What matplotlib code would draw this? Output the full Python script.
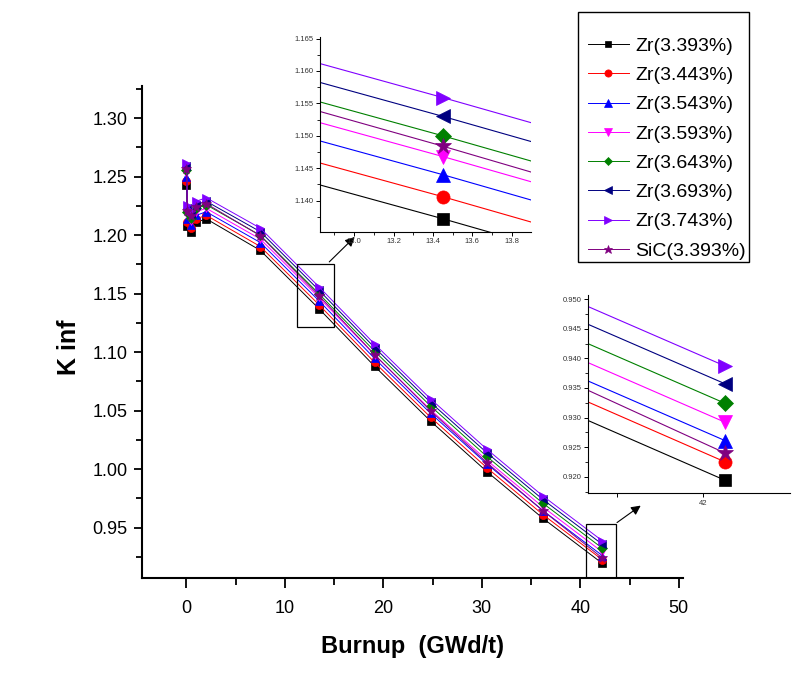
import matplotlib
matplotlib.use("Agg")
import matplotlib.pyplot as plt
from matplotlib.patches import Rectangle
from matplotlib.ticker import MultipleLocator, FormatStrFormatter

# burnup steps (GWd/t)
burnup = [0, 0.1, 0.5, 1.0, 2.0, 7.5, 13.45, 19.1, 24.8, 30.5, 36.2, 42.25]

# Kinf for each cladding / enrichment case
zr_3393 = [1.243, 1.208, 1.203, 1.211, 1.214, 1.1870, 1.1372, 1.0880, 1.0410, 0.9980, 0.9580, 0.9194]
zr_3443 = [1.246, 1.211, 1.206, 1.214, 1.217, 1.1903, 1.1406, 1.0913, 1.0443, 1.0013, 0.9612, 0.9225]
zr_3543 = [1.250, 1.214, 1.209, 1.217, 1.220, 1.1937, 1.1440, 1.0947, 1.0477, 1.0046, 0.9646, 0.9261]
zr_3593 = [1.253, 1.217, 1.212, 1.220, 1.223, 1.1967, 1.1468, 1.0977, 1.0507, 1.0077, 0.9677, 0.9292]
zr_3643 = [1.256, 1.220, 1.215, 1.223, 1.226, 1.1999, 1.1500, 1.1009, 1.0539, 1.0109, 0.9709, 0.9324]
zr_3693 = [1.259, 1.223, 1.218, 1.226, 1.229, 1.2030, 1.1530, 1.1040, 1.0570, 1.0141, 0.9741, 0.9357]
zr_3743 = [1.262, 1.226, 1.221, 1.229, 1.232, 1.2060, 1.1559, 1.1070, 1.0600, 1.0171, 0.9771, 0.9387]
sic_3393 = [1.2565, 1.221, 1.216, 1.224, 1.227, 1.1995, 1.1484, 1.0980, 1.0498, 1.0057, 0.9645, 0.9240]

names = ["Zr(3.393%)", "Zr(3.443%)", "Zr(3.543%)", "Zr(3.593%)",
         "Zr(3.643%)", "Zr(3.693%)", "Zr(3.743%)", "SiC(3.393%)"]
series = [zr_3393, zr_3443, zr_3543, zr_3593, zr_3643, zr_3693, zr_3743, sic_3393]
colors = ["black", "#ff0000", "#0000ff", "#ff00ff", "#008000", "#000080", "#8000ff", "#800080"]
markers = ["s", "o", "^", "v", "D", "<", ">", "*"]
msize = [1.0, 1.05, 1.1, 1.1, 0.85, 1.1, 1.1, 1.3]

plt.rcParams['font.family'] = ['Liberation Sans', 'DejaVu Sans']

fig = plt.figure(figsize=(7.95, 6.95), dpi=100)
W, H = 795.0, 695.0


def px_axes(l, t, r, b):
    return fig.add_axes([l / W, 1 - b / H, (r - l) / W, (b - t) / H])


def draw(ax, ms, lw):
    for y, c, m, s, n in zip(series, colors, markers, msize, names):
        ax.plot(burnup, y, color=c, lw=lw, marker=m, ms=ms * s,
                mfc=c, mec=c, mew=0.5, label=n)


def clean(ax, lw):
    ax.spines['top'].set_visible(False)
    ax.spines['right'].set_visible(False)
    ax.spines['left'].set_linewidth(lw)
    ax.spines['bottom'].set_linewidth(lw)


# main plot
ax = px_axes(141.5, 86, 682.7, 578)
draw(ax, 5.5, 0.7)
clean(ax, 1.5)
ax.set_xlim(-4.57, 50.4)
ax.set_ylim(0.907, 1.3275)
ax.xaxis.set_major_locator(MultipleLocator(10))
ax.xaxis.set_minor_locator(MultipleLocator(5))
ax.yaxis.set_major_locator(MultipleLocator(0.05))
ax.yaxis.set_minor_locator(MultipleLocator(0.025))
ax.yaxis.set_major_formatter(FormatStrFormatter('%.2f'))
ax.tick_params(axis='x', which='major', length=7.5, width=1.3, labelsize=13, pad=8)
ax.tick_params(axis='x', which='minor', length=5, width=1.3)
ax.tick_params(axis='y', which='major', length=6, width=1.3, labelsize=13, pad=4)
ax.tick_params(axis='y', which='minor', length=4, width=1.3)
ax.set_xlabel("Burnup  (GWd/t)", fontsize=17, fontweight='bold')
ax.set_ylabel("K inf", fontsize=18, fontweight='bold')
ax.xaxis.set_label_coords(0.5, -0.115)
ax.yaxis.set_label_coords(-0.112, 0.47)

# zoom boxes on the main plot
ax.add_patch(Rectangle((11.25, 1.1214), 3.76, 0.0541, fill=False, lw=0.9, ec='black', zorder=5))
ax.add_patch(Rectangle((40.54, 0.907), 3.05, 0.046, fill=False, lw=0.9, ec='black', zorder=5))

# inset around 13.45 GWd/t
in1 = px_axes(320, 37.3, 530.7, 231.7)
draw(in1, 9, 0.8)
clean(in1, 0.8)
in1.set_xlim(12.827, 13.896)
in1.set_ylim(1.1352, 1.1652)
in1.xaxis.set_major_locator(MultipleLocator(0.2))
in1.xaxis.set_minor_locator(MultipleLocator(0.1))
in1.yaxis.set_major_locator(MultipleLocator(0.005))
in1.yaxis.set_minor_locator(MultipleLocator(0.0025))
in1.xaxis.set_major_formatter(FormatStrFormatter('%.1f'))
in1.yaxis.set_major_formatter(FormatStrFormatter('%.3f'))

# inset around 42 GWd/t
in2 = px_axes(588.3, 295, 790, 493.3)
draw(in2, 9, 0.8)
clean(in2, 0.8)
in2.set_xlim(40.67, 43.0)
in2.set_ylim(0.9172, 0.9507)
in2.set_xticks([41, 42])
in2.set_xticklabels(['', '42'])
in2.yaxis.set_major_locator(MultipleLocator(0.005))
in2.yaxis.set_minor_locator(MultipleLocator(0.0025))
in2.yaxis.set_major_formatter(FormatStrFormatter('%.3f'))

for a in (in1, in2):
    a.tick_params(which='major', length=3, width=0.7, labelsize=5.5, pad=1.5, labelcolor='#333333')
    a.tick_params(which='minor', length=2, width=0.6)

# arrows from the boxes to the insets
ax.annotate("", xy=(0.174, -0.017), xycoords=in1.transAxes,
            xytext=(14.3, 1.1755), textcoords='data',
            arrowprops=dict(arrowstyle='-|>', color='black', lw=0.8, mutation_scale=14))
ax.annotate("", xy=(0.271, -0.054), xycoords=in2.transAxes,
            xytext=(43.5, 0.953), textcoords='data',
            arrowprops=dict(arrowstyle='-|>', color='black', lw=0.8, mutation_scale=14))

# legend with a separate frame
h, l = ax.get_legend_handles_labels()
leg = fig.legend(h, l, loc='upper left', bbox_to_anchor=(578.0 / W, 1 - 27.5 / H),
                 frameon=False, fontsize=14, borderpad=0, handlelength=2.1,
                 handletextpad=0.35, labelspacing=0.6, markerscale=0.9)
fig.patches.append(Rectangle((577.7 / W, 1 - 261.7 / H), 171.6 / W, 250 / H,
                             transform=fig.transFigure, fill=False, lw=1.0, ec='black'))

fig.savefig("out.png", dpi=100)
